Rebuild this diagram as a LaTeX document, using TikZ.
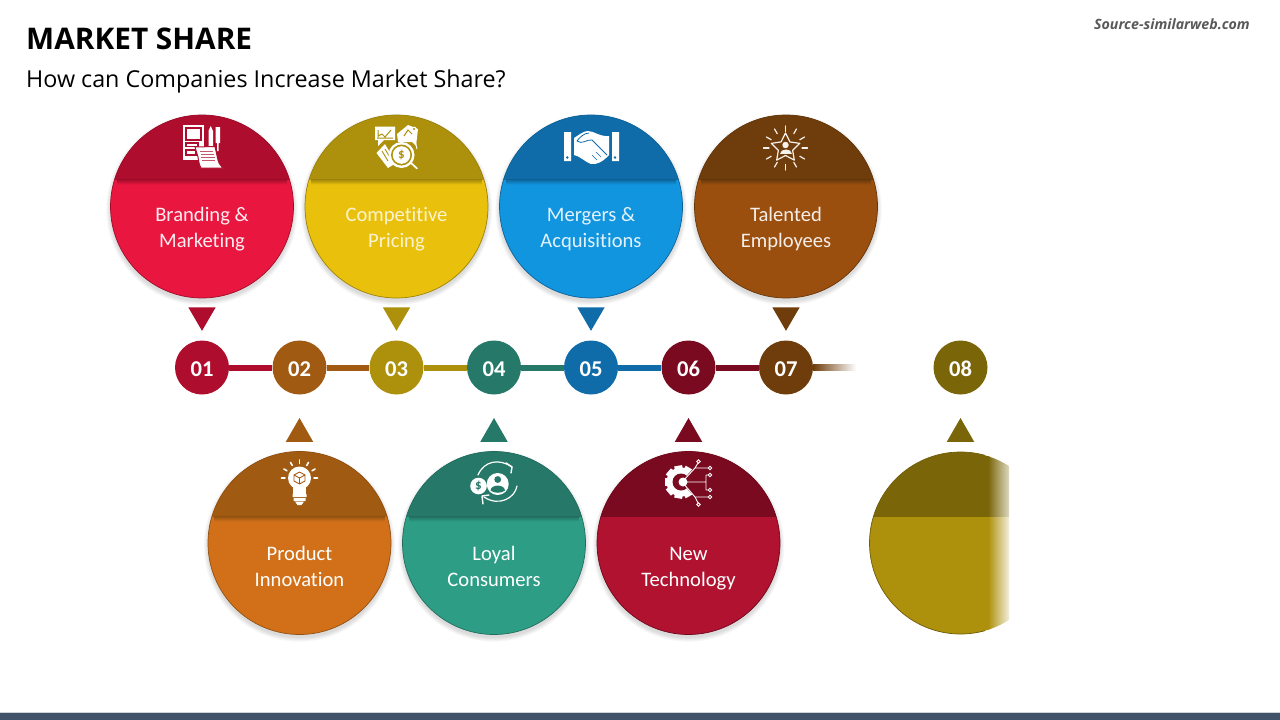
\documentclass[tikz,border=0pt]{standalone}
\usepackage{fontspec}
\setmainfont[Ligatures=NoCommon,Numbers=Lining]{Carlito}
\newfontfamily\headfont{Open Sans}
\usetikzlibrary{calc}
\definecolor{dkA}{HTML}{AF0D2E}\definecolor{ltA}{HTML}{E9173F}
\definecolor{dkB}{HTML}{A05A12}\definecolor{ltB}{HTML}{D2701A}
\definecolor{dkC}{HTML}{AD900B}\definecolor{ltC}{HTML}{E9C10D}
\definecolor{dkD}{HTML}{267868}\definecolor{ltD}{HTML}{2D9E85}
\definecolor{dkE}{HTML}{0F6CA8}\definecolor{ltE}{HTML}{1295DF}
\definecolor{dkF}{HTML}{7A0A20}\definecolor{ltF}{HTML}{B0122F}
\definecolor{dkG}{HTML}{6F3D0C}\definecolor{ltG}{HTML}{9A4F0F}
\definecolor{dkH}{HTML}{7A6608}\definecolor{ltH}{HTML}{AD900B}
\definecolor{barcol}{HTML}{415368}
\definecolor{srccol}{HTML}{595959}
\tikzset{
  bubble/.style={circle,minimum size=183pt,inner sep=0pt},
  bubbletext/.style={align=center,font=\fontsize{20.6}{25.5}\selectfont,inner sep=0pt},
  numdot/.style={circle,minimum size=54pt,inner sep=0pt,text=white,text height=17pt,text depth=0pt,font=\fontsize{22.6}{24}\selectfont\bfseries},
  link/.style={line width=6pt},
}
% args: name, x, y, split y, dark, light
\newcommand{\bubbledisk}[6]{%
  \foreach \k in {6,5,4,3,2,1}{\fill[black,opacity=.022] (#2,#3+3) circle ({91pt+\k*0.8pt});}
  \node[bubble,fill=#6] (#1) at (#2,#3) {};
  \begin{scope}
    \clip (#2,#3) circle (91.5pt);
    \fill[#5] (#2-92,#3-92) rectangle (#2+92,#4);
  \end{scope}
  \draw[#5!90!black,line width=.7pt] (#2,#3) circle (91.5pt);
}
\newcommand{\bandshade}[5]{%
  \begin{scope}
    \clip (#1,#2) circle (91pt);
    \shade[top color=#4!90!black,bottom color=#5] (#1-85,#3-1) rectangle (#1+85,#3+4.5);
  \end{scope}
}
\begin{document}
\begin{tikzpicture}[x=1pt,y=-1pt]
\useasboundingbox (0,0) rectangle (1280,720);
\fill[white] (0,0) rectangle (1280,720);
\fill[barcol] (0,713) rectangle (1280,720);
\fill[barcol!25!white] (0,712) rectangle (1280,713);

% header
\node[anchor=base west,inner sep=0pt,font=\headfont\fontsize{29.8}{32}\selectfont\bfseries] (title) at (26,49) {MARKET SHARE};
\node[anchor=base west,inner sep=0pt,font=\headfont\fontsize{23.3}{25}\selectfont] (sub) at (26,87.5) {How can Companies Increase Market Share?};
\node[anchor=base east,inner sep=0pt,text=srccol,font=\headfont\fontsize{14.2}{16}\selectfont\bfseries\itshape] (src) at (1250,29) {Source-similarweb.com};

% bubbles
\bubbledisk{bA}{202}{206.5}{180}{dkA}{ltA}
\bubbledisk{bC}{396.5}{206.5}{180}{dkC}{ltC}
\bubbledisk{bE}{591}{206.5}{180}{dkE}{ltE}
\bubbledisk{bG}{786}{206.5}{180}{dkG}{ltG}
\bubbledisk{bB}{299.5}{543}{517}{dkB}{ltB}
\bubbledisk{bD}{494}{543}{517}{dkD}{ltD}
\bubbledisk{bF}{688.5}{543}{517}{dkF}{ltF}
\bandshade{202}{206.5}{180}{dkA}{ltA}
\bandshade{396.5}{206.5}{180}{dkC}{ltC}
\bandshade{591}{206.5}{180}{dkE}{ltE}
\bandshade{786}{206.5}{180}{dkG}{ltG}
\bandshade{299.5}{543}{517}{dkB}{ltB}
\bandshade{494}{543}{517}{dkD}{ltD}

% fading bubble 08
\begin{scope}
  \clip (960.5,543) circle (91pt);
  \fill[ltH] (860,517) rectangle (990,640);
  \fill[dkH] (860,450) rectangle (990,517);
  \shade[left color=dkH,right color=dkH!25!white] (988,450) rectangle (1009,517);
  \shade[left color=ltH,right color=ltH!15!white] (988,517) rectangle (1009,640);
\end{scope}
\begin{scope}
  \clip (860,440) rectangle (985,650);
  \draw[dkH!90!black,line width=.7pt] (960.5,543) circle (91pt);
  \node[bubble] (bH) at (960.5,543) {};
\end{scope}

% bubble labels
\node[bubbletext,text=ltA!8!white] (tA) at (202,229.3) {\strut Branding \&\\\strut Marketing};
\node[bubbletext,text=ltC!20!white] (tC) at (396.5,229.3) {\strut Competitive\\\strut Pricing};
\node[bubbletext,text=ltE!12!white] (tE) at (591,229.3) {\strut Mergers \&\\\strut Acquisitions};
\node[bubbletext,text=ltG!10!white] (tG) at (786,229.3) {\strut Talented\\\strut Employees};
\node[bubbletext,text=white] (tB) at (299.5,568.4) {\strut Product\\\strut Innovation};
\node[bubbletext,text=white] (tD) at (494,568.4) {\strut Loyal\\\strut Consumers};
\node[bubbletext,text=white] (tF) at (688.5,568.4) {\strut New\\\strut Technology};

% timeline
\node[numdot,fill=dkA] (nA) at (202,367.5) {01};
\node[numdot,fill=dkB] (nB) at (299.5,367.5) {02};
\node[numdot,fill=dkC] (nC) at (396.5,367.5) {03};
\node[numdot,fill=dkD] (nD) at (494,367.5) {04};
\node[numdot,fill=dkE] (nE) at (591,367.5) {05};
\node[numdot,fill=dkF] (nF) at (688.5,367.5) {06};
\node[numdot,fill=dkG] (nG) at (786,367.5) {07};
\node[numdot,fill=dkH] (nH) at (960.5,367.5) {08};
\draw[link,dkA] (nA) -- (nB);
\draw[link,dkB] (nB) -- (nC);
\draw[link,dkC] (nC) -- (nD);
\draw[link,dkD] (nD) -- (nE);
\draw[link,dkE] (nE) -- (nF);
\draw[link,dkF] (nF) -- (nG);
\shade[left color=dkG,right color=white] (nG.east) ++(0,-3) rectangle (856,370.5);

% pointers
\foreach \px/\c in {202/dkA,396.5/dkC,591/dkE,786/dkG}
  \fill[\c] (\px-13.7,307.3) -- (\px+13.7,307.3) -- (\px,330.8) -- cycle;
\foreach \px/\c in {299.5/dkB,494/dkD,688.5/dkF,960.5/dkH}
  \fill[\c] (\px-13.7,441.8) -- (\px+13.7,441.8) -- (\px,418) -- cycle;

% icon: branding
\fill[white] (183,125) rectangle (204,160);
\draw[dkA,line width=1.1pt] (186,128) rectangle (201,140);
\draw[dkA,line width=1.1pt] (186,143) rectangle (198,146.5) (186,150) rectangle (196,155);
\fill[white] (208.5,131) rectangle (213,149) (208.5,131) -- (210.7,126) -- (213,131) (208.5,149) -- (210.7,154) -- (213,149);
\fill[white] (215.5,127) rectangle (220,143) (217,143) rectangle (218.5,151);
\fill[white,draw=dkA,line width=1pt,line join=round] (195,147) -- (215,146.5) -- (218,160) .. controls (219,164) and (221,166) .. (223,168) -- (201,168) .. controls (199,165) and (198.5,160) .. (198,157) -- cycle;
\foreach \yy/\xa/\xb in {151/200/213,154/200.5/214,157/201/214.5,160/201.5/215}
  \draw[dkA!70!white,line width=.8pt] (\xa,\yy) -- (\xb,\yy);

% icon: competitive pricing
\fill[white] (375,126.5) rectangle (395,140) (378,140) -- (384,140) -- (378,146) -- cycle;
\draw[dkC,line width=1pt,line join=round] (378,137) -- (378,130) (378,136) -- (382,134) -- (385,137) -- (391,130) (377,138) -- (393,138);
\fill[white] (397,134) -- (408,125) -- (418,129) -- (416,146) -- (412,142) -- (398,142) -- cycle;
\draw[dkC,line width=1pt] (404,136) -- (408,130) -- (412,134);
\draw[white,line width=1pt] (413,131) -- (417,149);
\fill[white] (414,129) circle (2.4pt);
\fill[dkC] (414,129) circle (1.1pt);
\fill[white] (376.5,153) -- (385,144) -- (396,163) -- (388,168) -- cycle;
\draw[dkC,line width=.9pt] (382,151) -- (388,161) (385,149) -- (391,159);
\draw[white,line width=1.7pt,line cap=round] (410,162) -- (417,168.5);
\fill[white] (401.5,155) circle (13pt);
\fill[dkC] (401.5,155) circle (10.5pt);
\fill[white] (401.5,155) circle (8.8pt);
\node[inner sep=0pt,text=dkC,font=\fontsize{13}{13}\selectfont\bfseries] (dollarC) at (401.5,155) {\$};

% icon: handshake
\fill[white] (564,132) rectangle (571,161) (612,132) rectangle (619,161);
\fill[dkE] (567.3,157.5) circle (1.4pt) (615,157.5) circle (1.4pt);
\fill[white] (574,138) .. controls (579,135) and (583,131) .. (588,131) .. controls (594,131) and (600,137) .. (609,136) -- (609,155) -- (606,158) .. controls (603,161) and (597,165) .. (591,164) .. controls (585,162) and (580,156) .. (574,155) -- cycle;
\draw[dkE,line width=.8pt,line join=round] (589,133) .. controls (584,133) and (579,138) .. (577,141) .. controls (582,145) and (587,139) .. (592,140) -- (607,155);
\draw[dkE,line width=.6pt] (601,157) -- (596,152) (597,160) -- (592,155);

% icon: talented employees
\begin{scope}[shift={(785.5,148)}]
  \foreach \a in {0,30,...,330}
    \draw[ltG!8!white,line width=1.2pt,line cap=round] (\a:16.5pt) -- (\a:22pt);
  \draw[ltG!8!white,line width=1.2pt,line join=round,fill=dkG]
    (90:15pt) -- (54:7.5pt) -- (18:15pt) -- (-18:7.5pt) -- (-54:15pt) -- (-90:7.5pt) -- (-126:15pt) -- (-162:7.5pt) -- (162:15pt) -- (126:7.5pt) -- cycle;
  \fill[ltG!8!white] (0,-3) circle (3.2pt);
  \fill[ltG!8!white] (-6,6) .. controls (-6,-0.5) and (6,-0.5) .. (6,6) -- cycle;
\end{scope}

% icon: product innovation
\foreach \a in {0,30,60,90,120,150,180}
  \draw[white,line width=1.6pt,line cap=round] ($(299.5,478)+(\a:14.5pt)$) -- ($(299.5,478)+(\a:18pt)$);
\fill[white] (299.5,478) circle (11.5pt);
\fill[white] (293,486) rectangle (306,494);
\fill[white] (292.5,494) rectangle (306.5,497) (293.5,498) rectangle (305.5,501);
\fill[white] (295,501.5) -- (304,501.5) -- (301.5,505) -- (297.5,505) -- cycle;
\draw[dkB,line width=.9pt,line join=round] (299.5,472) -- (305,475) -- (305,481) -- (299.5,484) -- (294,481) -- (294,475) -- cycle (294,475) -- (299.5,478) -- (305,475) (299.5,478) -- (299.5,484);

% icon: loyal consumers
\fill[white] (478.5,486) circle (8.3pt);
\node[inner sep=0pt,text=dkD,font=\fontsize{13}{13}\selectfont\bfseries] (dollarD) at (478.5,486) {\$};
\fill[white] (497.7,484) circle (11pt);
\fill[dkD] (497.7,479.5) circle (3.4pt);
\fill[dkD] (490.5,490.5) .. controls (491,484) and (504.5,484) .. (505,490.5) .. controls (502,493.5) and (493.5,493.5) .. (490.5,490.5) -- cycle;
\draw[white,line width=1.2pt,line cap=round] (478,475) .. controls (484,461) and (499,458) .. (512,467);
\draw[white,line width=1.4pt,line cap=round,line join=round] (506,463) -- (512,467) -- (511,473);
\draw[white,line width=1.2pt,line cap=round] (517,486) .. controls (515,498) and (499,507) .. (484,497);
\draw[white,line width=1.4pt,line cap=round,line join=round] (483,504) -- (482,496) -- (489,495);

% icon: new technology
\begin{scope}[shift={(681,482)}]
  \foreach \a in {60,100,...,300}
    \fill[white,rotate=\a] (12,-4) rectangle (16.5,4);
  \fill[white] (0,0) circle (14.5pt);
  \fill[dkF] (0,0) -- (19,-21) -- (19,21) -- cycle;
  \fill[dkF] (0,0) circle (8.5pt);
  \fill[white] (2,0) circle (4.5pt);
\end{scope}
\draw[white,line width=.9pt,line join=round]
  (683,482) -- (706,482) (706,475) -- (706,490) (706,475) -- (709,475) (706,490) -- (709,490)
  (683,481) -- (695,468) -- (708,468) (695,468) -- (698,463)
  (683,483) -- (695,497) -- (708,497) (695,497) -- (698,503);
\foreach \dx/\dy in {698.5/461.5,710/468,710/475,710/490,710/497,698.5/504.5}
  \draw[white,line width=.9pt,fill=dkF] (\dx,\dy) circle (1.8pt);
\end{tikzpicture}
\end{document}
